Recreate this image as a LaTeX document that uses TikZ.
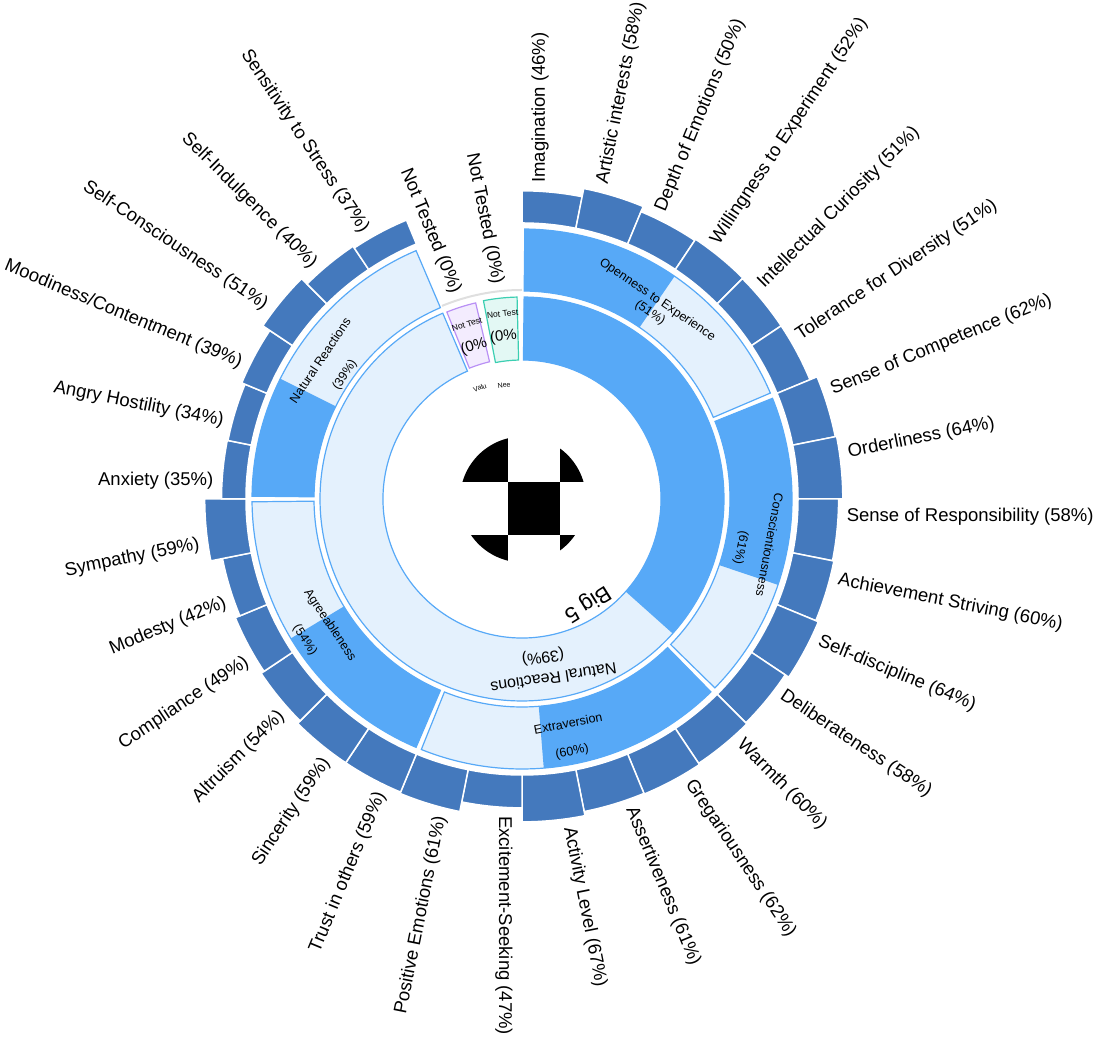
\documentclass[tikz,border=0pt]{standalone}
\usepackage{fontspec}
\setmainfont{Liberation Sans}
\definecolor{dk}{HTML}{4479BD}
\definecolor{md}{HTML}{57A9F7}
\definecolor{lt}{HTML}{E4F1FD}
\definecolor{pb}{HTML}{B990F5}
\definecolor{pf}{HTML}{F3ECFE}
\definecolor{tb}{HTML}{3CCFB2}
\definecolor{tf}{HTML}{E3F8F4}
\newcommand\annsec[5]{\path[#1] (#4:#3pt) arc[start angle=#4,end angle=#5,radius=#3pt] -- (#5:#2pt) arc[start angle=#5,end angle=#4,radius=#2pt] -- cycle;}
\tikzset{lab/.style={font=\fontsize{18.5}{22}\selectfont,inner sep=0pt},
 mlab/.style={font=\fontsize{12.5}{14}\selectfont,inner sep=0pt},
 bar/.style={fill=dk,draw=white,line width=1.5pt},
 seg/.style={fill=lt,draw=md,line width=1.2pt}}
\begin{document}
\begin{tikzpicture}[x=1pt,y=1pt]
\useasboundingbox (0,0) rectangle (1098,1040);
\begin{scope}[shift={(522,541)}]
% outer facets
\foreach \i/\nm/\p in {0/Imagination/46,1/Artistic interests/58,2/Depth of Emotions/50,3/Willingness to Experiment/52,4/Intellectual Curiosity/51,5/Tolerance for Diversity/51,6/Sense of Competence/62,7/Orderliness/64,8/Sense of Responsibility/58,9/Achievement Striving/60,10/Self-discipline/64,11/Deliberateness/58,12/Warmth/60,13/Gregariousness/62,14/Assertiveness/61,15/Activity Level/67,16/Excitement-Seeking/47,17/Positive Emotions/61,18/Trust in others/59,19/Sincerity/59,20/Altruism/54,21/Compliance/49,22/Modesty/42,23/Sympathy/59,24/Anxiety/35,25/Angry Hostility/34,26/{Moodiness/Contentment}/39,27/Self-Consciousness/51,28/Self-Indulgence/40,29/Sensitivity to Stress/37}{
  \pgfmathsetmacro\aone{90-11.25*\i}
  \pgfmathsetmacro\atwo{\aone-11.25}
  \pgfmathsetmacro\aperp{\aone-90}
  \pgfmathsetmacro\rout{276+0.7*\p}
  \pgfmathsetmacro\rl{\rout+8}
  \annsec{bar}{276}{\rout}{\aone}{\atwo}
  \ifnum\i<17
    \node[lab,rotate=\aone,anchor=west] (L\i) at ([shift={(\aperp:18pt)}]\aone:\rl pt) {\nm\ (\p\%)};
  \else
    \pgfmathsetmacro\rr{\aone+180}
    \node[lab,rotate=\rr,anchor=east] (L\i) at ([shift={(\aperp:18pt)}]\aone:\rl pt) {\nm\ (\p\%)};
  \fi
}
\node[lab,rotate=292.5,anchor=east] (NT1) at ([shift={(22.5:18pt)}]112.5:216pt) {Not Tested (0\%)};
\node[lab,rotate=281.25,anchor=east] (NT2) at ([shift={(11.25:18pt)}]101.25:216pt) {Not Tested (0\%)};
% middle ring
\foreach \g/\p in {0/51,1/61,2/60,3/54,4/39}{
  \pgfmathsetmacro\aone{90-67.5*\g-0.6}
  \pgfmathsetmacro\atwo{90-67.5*(\g+1)+0.6}
  \pgfmathsetmacro\ab{\aone-\p/100*(\aone-\atwo)}
  \annsec{seg}{208}{270}{\aone}{\atwo}
  \annsec{fill=md}{208}{270}{\aone}{\ab}
}
\draw[gray!25,line width=2pt] (90:209pt) arc[start angle=90,end angle=112.5,radius=209pt];
% inner ring
\annsec{seg}{139}{202}{89.4}{-246.9}
\pgfmathsetmacro\ab{89.4-0.39*336.3}
\annsec{fill=md}{139}{202}{89.4}{\ab}
% not tested boxes
\annsec{fill=pf,draw=pb,line width=1.2pt}{141}{201.5}{111.9}{103.3}
\annsec{fill=tf,draw=tb,line width=1.2pt}{139}{202}{101}{91.4}
\node[inner sep=0pt,font=\fontsize{8.5}{9}\selectfont,rotate=6] (nt2a) at (96:186pt) {Not Test};
\node[inner sep=0pt,font=\fontsize{15}{16}\selectfont,rotate=6] (nt2b) at (96.5:163pt) {(0\%};
\node[inner sep=0pt,font=\fontsize{8.5}{9}\selectfont,rotate=17] (nt1a) at (107.5:183pt) {Not Test};
\node[inner sep=0pt,font=\fontsize{15}{16}\selectfont,rotate=17] (nt1b) at (107.5:160pt) {(0\%};
\node[inner sep=0pt,font=\fontsize{7}{8}\selectfont,rotate=20] (valu) at (110.7:119pt) {Valu};
\node[inner sep=0pt,font=\fontsize{7}{8}\selectfont,rotate=9] (nee) at (99:115pt) {Nee};
% middle labels
\node[mlab,rotate=-34.2] (mo) at (55.8:240.6pt) {Openness to Experience};
\node[mlab,rotate=-34.2] (mop) at (55.5:226pt) {(51\%)};
\node[mlab,rotate=-100.5] (mc) at (-10.5:252pt) {Conscientiousness};
\node[mlab,rotate=-101] (mcp) at (-12.6:224pt) {(61\%)};
\node[mlab,rotate=11.25] (me) at (-78.4:229pt) {Extraversion};
\node[mlab,rotate=11.25] (mep) at (-78.8:258pt) {(60\%)};
\node[mlab,rotate=-56.25] (ma) at (-146.7:230pt) {Agreeableness};
\node[mlab,rotate=-56.25] (map) at (-147:259pt) {(54\%)};
\node[mlab,rotate=56.25] (mn) at (145.5:245pt) {Natural Reactions};
\node[mlab,rotate=56.25] (mnp) at (145:216pt) {(39\%)};
% inner labels
\node[inner sep=0pt,font=\fontsize{16}{18}\selectfont,rotate=-171.25] (inr) at (-80:182pt) {Natural Reactions};
\node[inner sep=0pt,font=\fontsize{16}{18}\selectfont,rotate=-171.25] (inrp) at (-82.4:159pt) {(39\%)};
\node[inner sep=0pt,font=\fontsize{22}{24}\selectfont,rotate=-148] (big) at (-58:123pt) {Big 5};
% center icon
\begin{scope}
\clip (1,-0.5) circle (63pt);
\fill (-80,17) rectangle (-14,80);
\fill (38,17) rectangle (90,80);
\fill (-80,-36) rectangle (-14,-90);
\fill (38,-36) rectangle (90,-90);
\end{scope}
\fill (-14,-36) rectangle (38,17);
\end{scope}
\end{tikzpicture}
\end{document}
